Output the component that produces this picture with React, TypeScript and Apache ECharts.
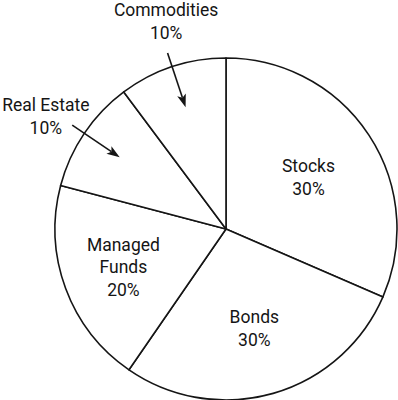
import React, { useEffect, useRef } from 'react';
import * as echarts from 'echarts';

const categories = ['Stocks', 'Bonds', 'Managed Funds', 'Real Estate', 'Commodities'];
const percentLabels = ['30%', '30%', '20%', '10%', '10%'];
const sliceShares = [31.5, 28.1, 19.5, 10.7, 10.2];

const CX = 226;
const CY = 229;
const R = 171;
const labelRadius = [0.57, 0.6, 0.64, 1.25, 1.26];
const labelShift: number[][] = [[1, 2], [0, 1], [0, 0], [-3, 7], [8, -3]];
const wrapName = [false, false, true, false, false];
const arrowed = [false, false, false, true, true];
const ARROW_FROM = 1.085;
const ARROW_TO = 0.75;
const FONT = 'Roboto, "Liberation Sans", sans-serif';
const INK = '#151515';

function midAngles(): number[] {
  const total = sliceShares.reduce((a, b) => a + b, 0);
  let acc = 0;
  return sliceShares.map((v) => {
    const mid = ((acc + v / 2) / total) * Math.PI * 2;
    acc += v;
    return mid;
  });
}

function polar(a: number, r: number): [number, number] {
  return [CX + Math.sin(a) * r, CY - Math.cos(a) * r];
}

export default function App() {
  const ref = useRef<HTMLDivElement>(null);
  useEffect(() => {
    document.body.style.margin = '0';
    if (!ref.current) return;
    const chart = echarts.init(ref.current, null, { renderer: 'svg' });
    const mids = midAngles();

    const graphics: any[] = [];
    mids.forEach((a, i) => {
      if (!arrowed[i]) return;
      const [x1, y1] = polar(a, ARROW_FROM * R);
      const [tx, ty] = polar(a, ARROW_TO * R);
      const ux = -Math.sin(a);
      const uy = Math.cos(a);
      const nx = -uy;
      const ny = ux;
      const L = 13;
      const W = 4.5;
      const bx = tx - ux * (L - 3);
      const by = ty - uy * (L - 3);
      graphics.push({
        type: 'line',
        silent: true,
        z: 100,
        shape: { x1, y1, x2: bx, y2: by },
        style: { stroke: INK, lineWidth: 1.6 },
      });
      graphics.push({
        type: 'polygon',
        silent: true,
        z: 100,
        shape: {
          points: [
            [tx, ty],
            [tx - ux * L + nx * W, ty - uy * L + ny * W],
            [bx, by],
            [tx - ux * L - nx * W, ty - uy * L - ny * W],
          ],
        },
        style: { fill: INK },
      });
    });

    chart.setOption({
      animation: false,
      backgroundColor: '#ffffff',
      graphic: graphics,
      series: [
        {
          type: 'pie',
          silent: true,
          z: 1,
          center: [CX, CY],
          radius: [0, R],
          startAngle: 90,
          clockwise: true,
          avoidLabelOverlap: false,
          data: categories.map((name, i) => ({ name, value: sliceShares[i] })),
          itemStyle: { color: '#ffffff', borderColor: INK, borderWidth: 1.6 },
          label: {
            show: true,
            position: 'inside',
            color: INK,
            fontFamily: FONT,
            fontSize: 17.5,
            lineHeight: 22.5,
            align: 'center',
            formatter: (p: any) => {
              const i = p.dataIndex;
              const n = wrapName[i] ? categories[i].replace(' ', '\n') : categories[i];
              return n + '\n' + percentLabels[i];
            },
          },
          labelLine: { show: false },
          labelLayout: (p: any) => {
            const i = p.dataIndex;
            const [x, y] = polar(mids[i], labelRadius[i] * R);
            return {
              x: x + labelShift[i][0],
              y: y + labelShift[i][1],
              align: 'center',
              verticalAlign: 'middle',
            };
          },
          emphasis: { disabled: true },
        },
      ],
    });
    return () => chart.dispose();
  }, []);
  return <div ref={ref} style={{ width: 398, height: 400 }} />;
}
